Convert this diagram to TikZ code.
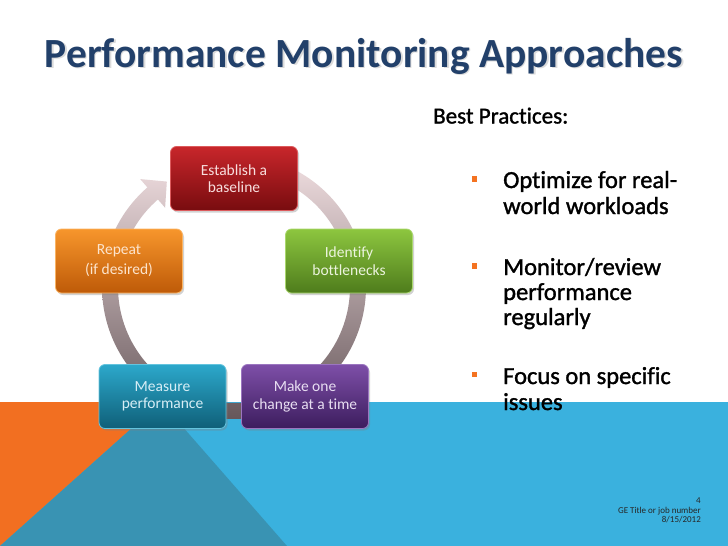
\documentclass[tikz,border=0pt]{standalone}
\usepackage{fontspec}
\setmainfont{Carlito}[Ligatures=NoCommon]
\newfontfamily\bpfont{Carlito}[Ligatures=NoCommon, FakeBold=1.3]
\usetikzlibrary{shadows}
\definecolor{band}{HTML}{3AB1DE}
\definecolor{orng}{HTML}{F26F21}
\definecolor{deepteal}{HTML}{3993B3}
\definecolor{titleblue}{HTML}{22406A}
\definecolor{ringtop}{HTML}{F2E0E2}
\definecolor{ringmid}{HTML}{C8ABAF}
\definecolor{ringbot}{HTML}{66575A}
\definecolor{bullet}{HTML}{F47321}
\begin{document}
\begin{tikzpicture}[x=1pt,y=-1pt,
  cbox/.style={rounded corners=6pt, minimum width=127pt, minimum height=64pt,
    align=center, inner sep=0pt, line width=0.8pt,
    font=\fontsize{15.5}{17.5}\selectfont,
    drop shadow={opacity=0.35, shadow xshift=1.5pt, shadow yshift=-2pt}},
  redbox/.style={cbox, top color={rgb,255:red,200;green,38;blue,43}, middle color={rgb,255:red,168;green,24;blue,28}, bottom color={rgb,255:red,120;green,12;blue,15}, draw={rgb,255:red,220;green,90;blue,92}, text={rgb,255:red,248;green,222;blue,222}},
  greenbox/.style={cbox, top color={rgb,255:red,141;green,198;blue,63}, bottom color={rgb,255:red,78;green,124;blue,28}, draw={rgb,255:red,170;green,215;blue,110}, text={rgb,255:red,236;green,244;blue,222}},
  orangebox/.style={cbox, top color={rgb,255:red,247;green,150;blue,44}, bottom color={rgb,255:red,190;green,90;blue,8}, draw={rgb,255:red,250;green,180;blue,100}, text={rgb,255:red,252;green,228;blue,205}},
  tealbox/.style={cbox, top color={rgb,255:red,44;green,168;blue,203}, bottom color={rgb,255:red,15;green,95;blue,120}, draw={rgb,255:red,100;green,196;blue,222}, text={rgb,255:red,215;green,238;blue,246}},
  purplebox/.style={cbox, top color={rgb,255:red,126;green,79;blue,168}, bottom color={rgb,255:red,60;green,29;blue,94}, draw={rgb,255:red,155;green,118;blue,192}, text={rgb,255:red,232;green,222;blue,242}},
  bptext/.style={anchor=base west, inner sep=0pt, font=\bpfont\fontsize{24.5}{26}\selectfont},
  bsq/.style={fill=bullet, minimum size=5.5pt, inner sep=0pt}
]
\useasboundingbox (0,0) rectangle (728,546);
% background
\fill[white] (0,0) rectangle (728,546);
\fill[band] (0,402) rectangle (728,546);
\fill[orng] (0,402) -- (161,402) -- (0,546) -- cycle;
\fill[deepteal] (0,546) -- (161,402) -- (287,546) -- cycle;

% title
\node[anchor=base, inner sep=0pt, text=black!40, opacity=0.35, font=\fontsize{41.5}{44}\selectfont\bfseries] at (365.5,68.5) {Performance Monitoring Approaches};
\node (title) [anchor=base, inner sep=0pt, text=titleblue, font=\fontsize{41.5}{44}\selectfont\bfseries] at (364,67) {Performance Monitoring Approaches};

% cycle ring with arrow head
\shade[top color=ringtop, middle color=ringmid, bottom color=ringbot]
  plot[domain=-95:229, samples=140] ({234+132*cos(\x)},{287+132*sin(\x)})
  -- ({234+143*cos(229)},{287+143*sin(229)})
  -- ({234+125*cos(237.5)},{287+125*sin(237.5)})
  -- ({234+105*cos(229)},{287+105*sin(229)})
  -- plot[domain=229:-95, samples=140] ({234+116*cos(\x)},{287+116*sin(\x)})
  -- cycle;

% boxes
\node (est) [redbox] at (234,178.5) {Establish a\\baseline};
\node (idf) [greenbox] at (349,261) {Identify\\bottlenecks};
\node (mak) [purplebox] at (305,396.5) {Make one\\change at a time};
\node (mea) [tealbox] at (162.5,396.5) {Measure\\performance};
\node (rep) [orangebox, font=\fontsize{15.5}{20}\selectfont] at (119,261) {Repeat\\(if desired)};

% best practices
\node (bp) [anchor=base west, inner sep=0pt, font=\bpfont\fontsize{23}{26}\selectfont] at (433,123.5) {Best Practices:};
\node (b1) [bsq] at (474.5,179) {};
\node (t1a) [bptext] at (503,188) {Optimize for real-};
\node (t1b) [bptext] at (503,214) {world workloads};
\node (b2) [bsq] at (474.5,266) {};
\node (t2a) [bptext] at (503,275) {Monitor/review};
\node (t2b) [bptext] at (503,300) {performance};
\node (t2c) [bptext] at (503,325) {regularly};
\node (b3) [bsq] at (474.5,374.5) {};
\node (t3a) [bptext] at (503,384) {Focus on specific};
\node (t3b) [bptext] at (503,410) {issues};

% footer
\node (foot) [anchor=north east, align=right, inner sep=0pt, text=black!85, font=\fontsize{9}{9.5}\selectfont] at (701,498) {4\\GE Title or job number\\8/15/2012};
\end{tikzpicture}
\end{document}
